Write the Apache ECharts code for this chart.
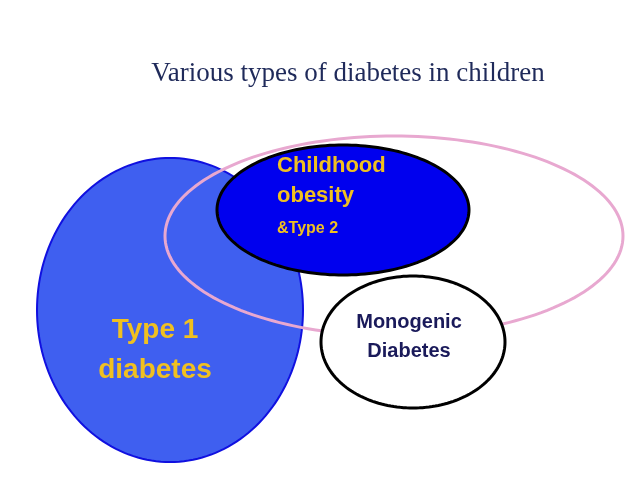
<!DOCTYPE html>
<html><head><meta charset="utf-8">
<script src="https://cdn.jsdelivr.net/npm/echarts@6/dist/echarts.min.js"></script>
<style>html,body{margin:0;padding:0;background:#fff}#c{width:638px;height:478px}</style>
</head><body><div id="c"></div>
<script>
// ellipses: name, cx, cy, rx, ry
const ellipseNames = ['Type 1 diabetes','Adolescence','Childhood obesity & Type 2','Monogenic Diabetes'];
const ellipseCx = [170, 394, 343, 413];
const ellipseCy = [310, 236, 210, 342];
const ellipseRx = [133, 229, 126, 92];
const ellipseRy = [152, 100, 65, 66];
const ellipseFill = ['#3f5ff0', 'none', '#0000ee', '#ffffff'];
const ellipseStroke = ['#1010e0', '#e8a8d0', '#000000', '#000000'];
const ellipseWidth = [2, 3, 3, 3];

// labels: text, x, y
const labelTexts = ['Type 1','diabetes','Childhood','obesity','&Type 2','Monogenic','Diabetes'];
const labelX = [155, 155, 277, 277, 277, 409, 409];
const labelY = [330, 370, 166, 196, 229, 322, 351];
const labelSize = [28, 28, 22, 22, 16, 20, 20];
const labelAlign = ['center','center','left','left','left','center','center'];
const labelColor = ['#f0c020','#f0c020','#f0c020','#f0c020','#f0c020','#1a1a5a','#1a1a5a'];

const chart = echarts.init(document.getElementById('c'));
chart.setOption({
  animation:false,
  title:{text:'Various types of diabetes in children',left:343,top:55,textAlign:'center',
    textStyle:{fontFamily:'Liberation Sans Narrow',fontWeight:'normal',fontSize:27,color:'#1f2a5a'}},
  grid:{left:0,right:0,top:0,bottom:0},
  xAxis:{type:'value',min:0,max:638,show:false},
  yAxis:{type:'value',min:0,max:478,inverse:true,show:false},
  series:[{
    type:'custom',
    data: ellipseCx.map((x,i)=>[x,ellipseCy[i],ellipseRx[i],ellipseRy[i],i]),
    renderItem:(params,api)=>{
      const i=api.value(4);
      const c=api.coord([api.value(0),api.value(1)]);
      const s=api.size([api.value(2),api.value(3)]);
      const pts=[];
      for(let k=0;k<180;k++){const a=k/180*Math.PI*2;pts.push([c[0]+s[0]*Math.cos(a),c[1]+s[1]*Math.sin(a)]);}
      return {type:'polygon',shape:{points:pts},style:{fill:ellipseFill[i],stroke:ellipseStroke[i],lineWidth:ellipseWidth[i]}};
    }
  },{
    type:'custom',
    data: labelX.map((x,i)=>[x,labelY[i],i]),
    renderItem:(params,api)=>{
      const i=api.value(2);
      const c=api.coord([api.value(0),api.value(1)]);
      return {type:'text',x:c[0],y:c[1],style:{text:labelTexts[i],fill:labelColor[i],
        font:'bold '+labelSize[i]+'px "Liberation Sans", Arial, sans-serif',align:labelAlign[i],verticalAlign:'middle'}};
    }
  }]
});
</script></body></html>
